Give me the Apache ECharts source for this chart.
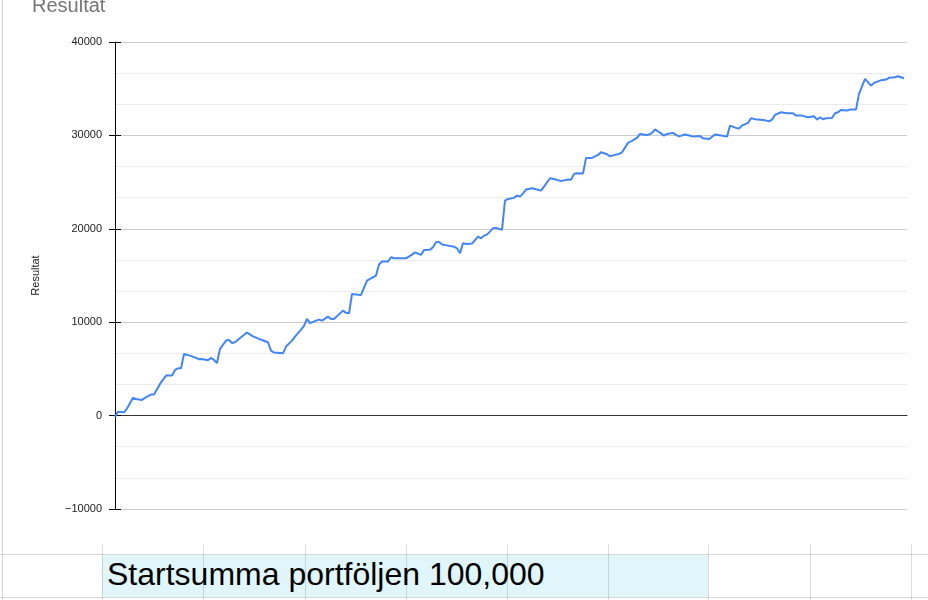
<!DOCTYPE html>
<html>
<head>
<meta charset="utf-8">
<script src="https://cdn.jsdelivr.net/npm/echarts@6/dist/echarts.min.js"></script>
<style>
    html, body { margin: 0; padding: 0; background: #fff; }
    body { width: 928px; height: 600px; position: relative; overflow: hidden; font-family: 'Liberation Sans', Arial, sans-serif; }
    #chart { position: absolute; left: 0; top: 0; width: 928px; height: 600px; }
    #edge { position: absolute; left: 2px; top: 0; width: 1px; height: 600px; background: #d0d0d0; }
    #sheet { position: absolute; left: 0; top: 544px; width: 928px; height: 56px; background: #fff; }
    .row { position: absolute; left: 0; width: 928px; height: 1px; background: #d9d9d9; }
    .col { position: absolute; top: 0; width: 1px; height: 56px; background: rgba(0,0,0,0.13); }
    #cell { position: absolute; left: 102px; top: 10px; width: 606px; height: 43px; background: #e0f6fa; }
    #label { position: absolute; left: 107px; top: 12px; font-size: 32px; line-height: 36px; color: #000; white-space: nowrap; }
</style>
</head>
<body>
<div id="chart"></div>
<div id="sheet">
    <div id="cell"></div>
    <div class="row" style="top:10px"></div>
    <div class="row" style="top:53px"></div>
    <div id="label">Startsumma portföljen 100,000</div>
</div>
<div id="edge"></div>
<script>
// handelsdag (index) och resultat
const dag = [
    0, 1, 3, 4, 6, 7, 9, 10, 12, 13, 15, 17, 19, 20, 21, 22, 23, 25, 27, 28,
    29, 31, 32, 33, 34, 35, 37, 38, 39, 40, 42, 44, 46, 48, 49, 51, 52, 53, 56, 57,
    59, 60, 62, 63, 64, 65, 67, 68, 69, 71, 72, 73, 76, 77, 78, 79, 81, 82, 84, 85,
    87, 88, 89, 91, 92, 93, 95, 97, 99, 100, 102, 103, 105, 106, 107, 108, 109, 111, 113, 114,
    115, 116, 117, 119, 121, 122, 123, 124, 126, 127, 129, 130, 131, 133, 134, 135, 136, 137, 139, 140,
    142, 143, 145, 147, 148, 149, 151, 152, 153, 154, 156, 157, 159, 161, 162, 164, 165, 167, 168, 169,
    171, 172, 174, 175, 177, 178, 179, 180, 181, 183, 184, 186, 187, 188, 190, 192, 193, 195, 196, 197,
    198, 200, 202, 204, 205, 207, 208, 209, 211, 212, 214, 216, 218, 219, 220, 222, 224, 226, 227, 229,
    231, 233, 234, 235, 236, 237, 239, 240, 241, 242, 244, 245, 247, 248, 250, 252, 253, 255, 257, 258,
    260, 261, 263
];
const resultat = [
    -150, 400, 350, 750, 1900, 1780, 1680, 1900, 2250, 2250, 3390, 4280, 4280, 4890, 5060, 5060, 6600, 6420, 6180, 6030,
    6070, 5920, 6180, 5960, 5640, 7140, 8030, 8100, 7780, 7850, 8380, 8890, 8490, 8210, 8100, 7850, 6960, 6750, 6670, 7390,
    8030, 8460, 9200, 9600, 10350, 9900, 10170, 10280, 10170, 10600, 10350, 10350, 11240, 11000, 10950, 13020, 12950, 12920, 14450, 14630,
    14990, 16170, 16490, 16490, 16950, 16840, 16840, 16840, 17240, 17480, 17200, 17740, 17770, 18020, 18550, 18600, 18310, 18200, 18090, 17910,
    17380, 18450, 18380, 18420, 19160, 18980, 19270, 19380, 20050, 20100, 19900, 23020, 23200, 23310, 23550, 23450, 23800, 24200, 24340, 24270,
    24090, 24520, 25410, 25270, 25160, 25130, 25270, 25240, 25880, 25950, 25910, 27590, 27590, 27910, 28190, 27980, 27760, 27940, 28010, 28190,
    29200, 29370, 29730, 30160, 30050, 30090, 30270, 30650, 30440, 29980, 30160, 30270, 30050, 29900, 30090, 29940, 29870, 29940, 29680, 29680,
    29580, 30090, 29980, 29870, 31050, 30800, 30730, 31050, 31340, 31830, 31690, 31660, 31510, 31690, 32190, 32480, 32370, 32370, 32120, 32120,
    31940, 32050, 31690, 31940, 31730, 31830, 31870, 32370, 32480, 32730, 32660, 32760, 32760, 34440, 36050, 35330, 35620, 35870, 35980, 36160,
    36230, 36340, 36120
];
const yMin = -10000;
const yMax = 40000;
const yStep = 10000;

const font = "'Liberation Sans', Arial, sans-serif";
const chart = echarts.init(document.getElementById('chart'));

chart.setOption({
    animation: false,
    backgroundColor: '#fff',
    title: {
        text: 'Resultat',
        left: 27,
        top: -9,
        textStyle: { fontSize: 20, fontWeight: 'normal', color: '#757575', fontFamily: font }
    },
    grid: { left: 115, right: 21, top: 42, bottom: 91 },
    xAxis: {
        type: 'value',
        min: 0,
        max: 264,
        axisLine: { show: true, onZero: true, lineStyle: { color: '#333', width: 1 } },
        axisTick: { show: false },
        axisLabel: { show: false },
        splitLine: { show: false }
    },
    yAxis: [
        {
            type: 'value',
            min: yMin,
            max: yMax,
            interval: yStep,
            name: 'Resultat',
            nameLocation: 'middle',
            nameGap: 74,
            nameTextStyle: { fontSize: 11, color: '#222', fontFamily: font },
            axisLine: { show: true, lineStyle: { color: '#000', width: 1 } },
            axisTick: { show: true, length: 6, lineStyle: { color: '#000' } },
            axisLabel: {
                margin: 13,
                fontSize: 11,
                color: '#222',
                fontFamily: font,
                formatter: v => String(v).replace('-', '\u2212')
            },
            splitLine: { show: true, lineStyle: { color: '#cccccc', width: 1 } },
            minorTick: { show: false, splitNumber: 3 },
            minorSplitLine: { show: true, lineStyle: { color: '#ebebeb', width: 1 } }
        },
        {
            // inre tickar, så att de korsar axeln
            type: 'value',
            position: 'left',
            min: yMin,
            max: yMax,
            interval: yStep,
            axisLine: { show: false },
            axisTick: { show: true, inside: true, length: 6, lineStyle: { color: '#000' } },
            axisLabel: { show: false },
            splitLine: { show: false }
        }
    ],
    series: [
        {
            name: 'Resultat',
            type: 'line',
            data: dag.map((d, i) => [d, resultat[i]]),
            showSymbol: false,
            smooth: false,
            lineStyle: { color: '#4285f4', width: 2 },
            itemStyle: { color: '#4285f4' }
        }
    ]
});

// kolumnlinjer i kalkylbladet under diagrammet
const sheet = document.getElementById('sheet');
[102, 203, 305, 406, 507, 608, 708, 810, 911].forEach(x => {
    const c = document.createElement('div');
    c.className = 'col';
    c.style.left = x + 'px';
    sheet.appendChild(c);
});
</script>
</body>
</html>
